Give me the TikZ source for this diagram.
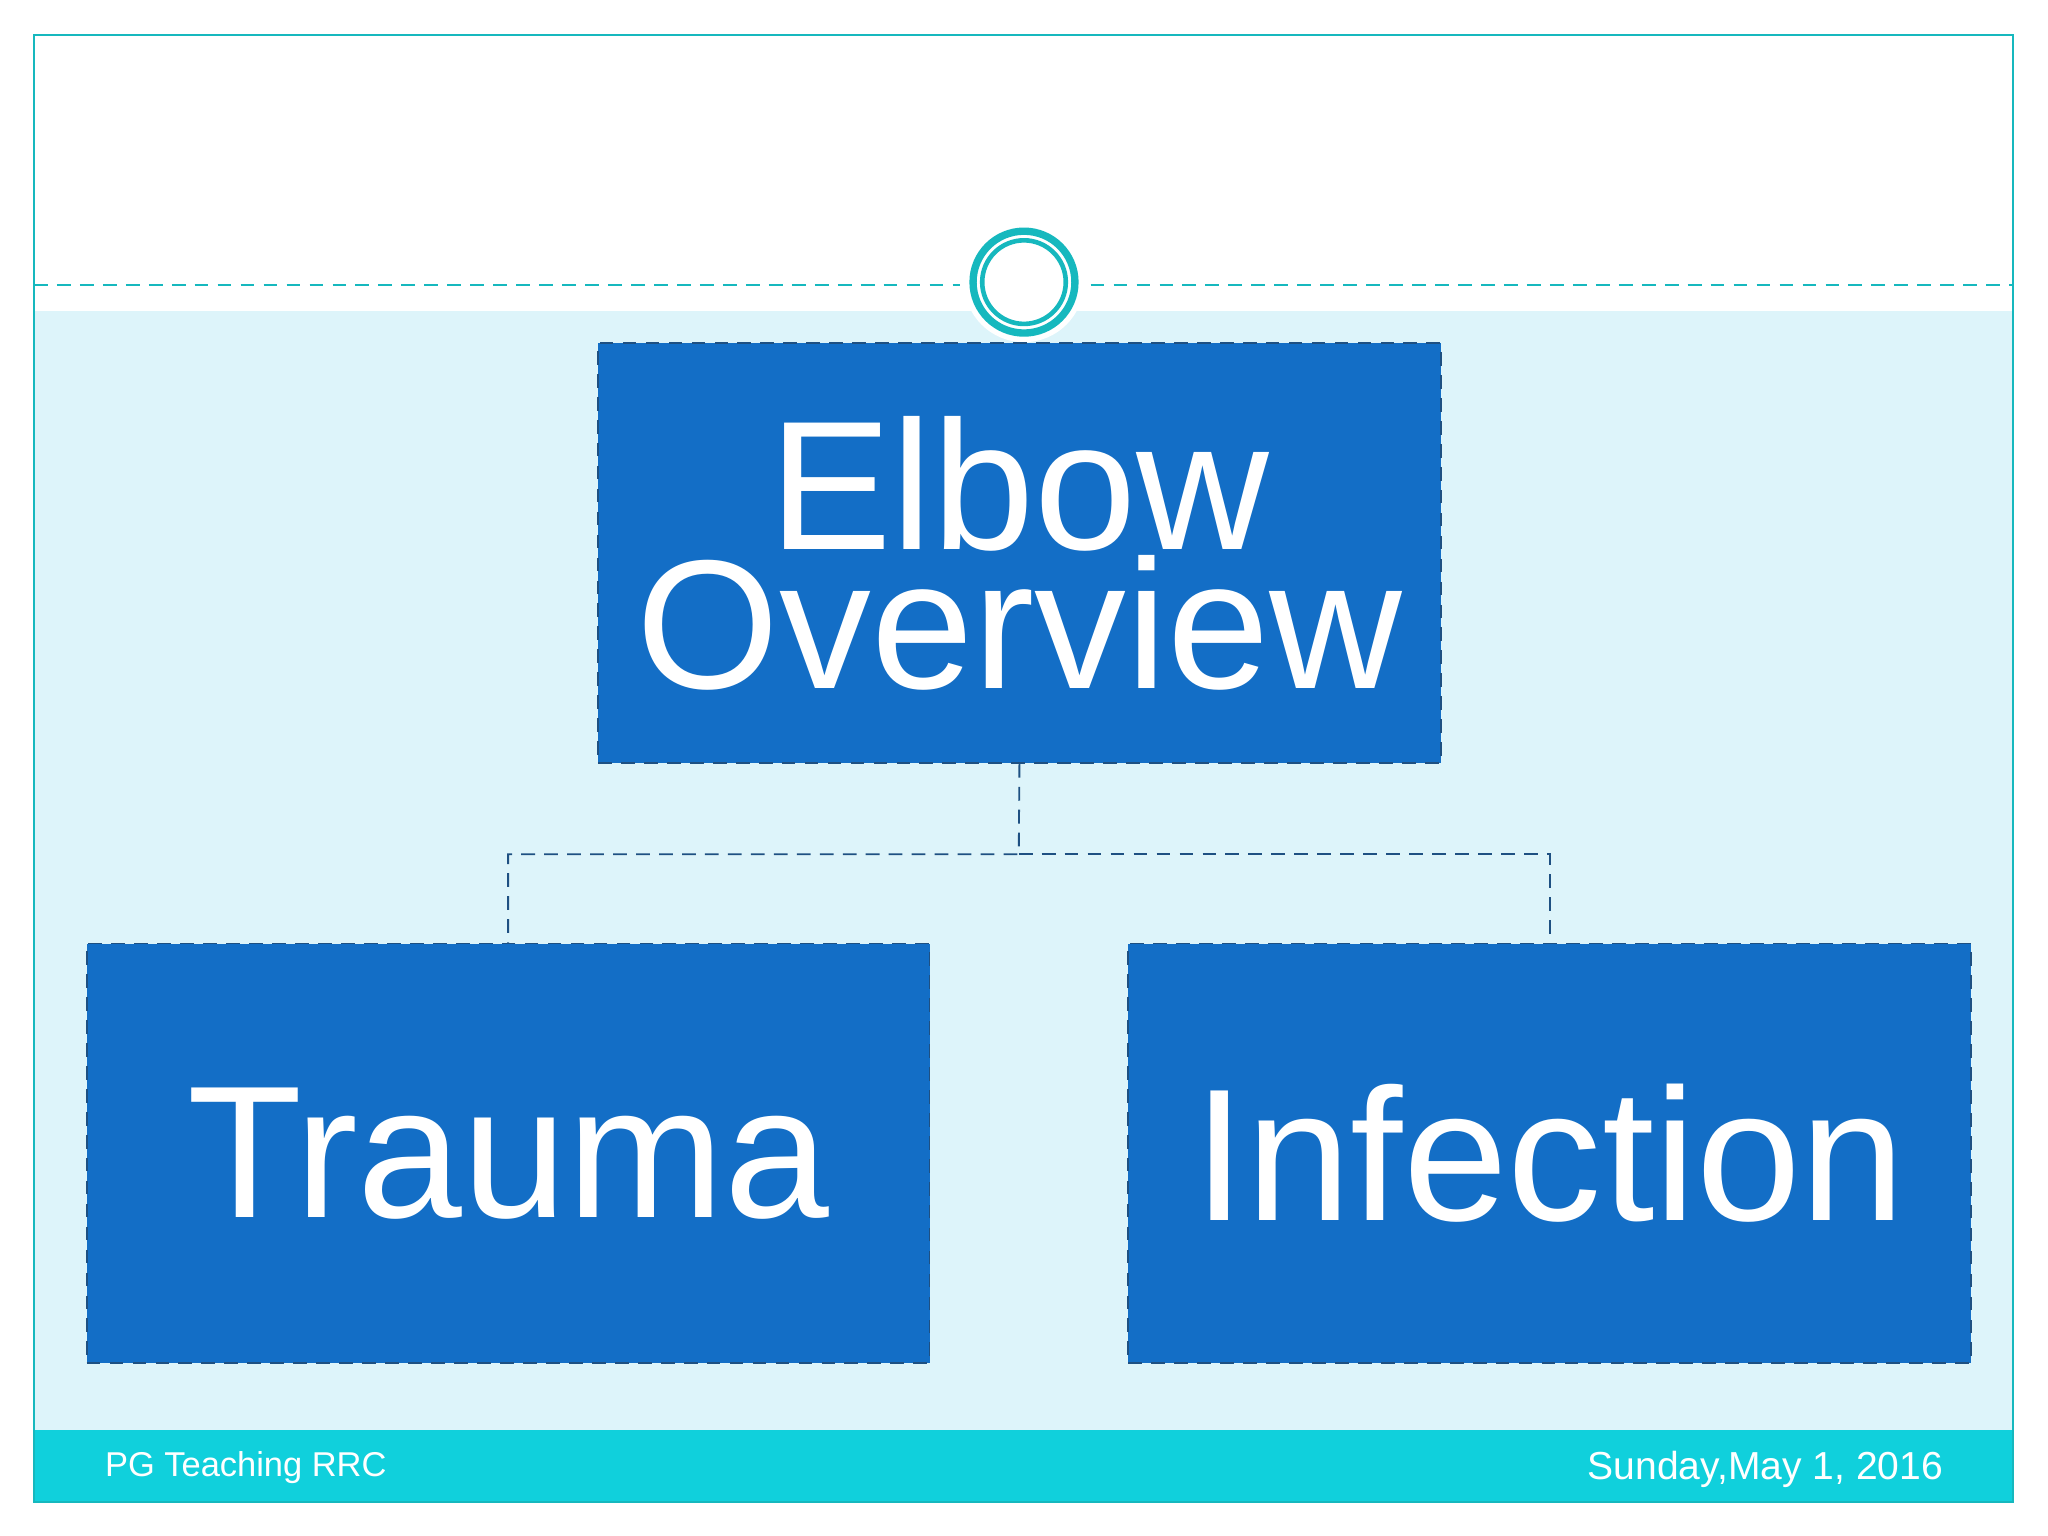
\documentclass[tikz,border=0pt]{standalone}
\usepackage{fontspec}
\setmainfont{Liberation Sans}
\usetikzlibrary{positioning}
\definecolor{boxblue}{RGB}{19,110,198}
\definecolor{pale}{RGB}{221,244,250}
\definecolor{teal1}{RGB}{22,184,190}
\definecolor{bar}{RGB}{16,208,220}
\definecolor{link}{RGB}{30,80,130}
\tikzstyle{topic} = [rectangle, fill=boxblue, draw=link, densely dashed, thin, text=white, minimum width=6.45cm, minimum height=3.21cm, align=center, inner sep=0pt]
\tikzstyle{branch} = [draw=link, densely dashed, thin]
\newcommand{\hugetext}{\fontsize{40}{42}\selectfont}
\begin{document}
\begin{tikzpicture}[x=0.01cm, y=-0.01cm]
  \useasboundingbox (0,0) rectangle (1568,1176);
  \fill[white] (0,0) rectangle (1568,1176);
  % background areas
  \fill[pale] (26,238) rectangle (1541,1095);
  \fill[bar] (26,1095) rectangle (1541,1150);
  \draw[teal1, thin] (26,27) rectangle (1541,1150);
  \draw[teal1, densely dashed, thin] (26,218) -- (735,218) (835,218) -- (1541,218);
  \fill[white] (784,216) circle (46);
  \draw[teal1, line width=1.6pt, fill=white] (784,216) circle (39);
  \draw[teal1, line width=1pt] (784,216) circle (32);
  % boxes
  \node[topic] (elbow) at (780.5,423.5) {\hugetext Elbow\\\hugetext Overview};
  \node[topic] (trauma) at (389,883) {\fontsize{41}{42}\selectfont Trauma};
  \node[topic] (infection) at (1186.5,883) {\fontsize{41}{42}\selectfont Infection};
  \coordinate (split) at (780,654);
  \draw[branch] (elbow.south) -- (split) -| (trauma.north);
  \draw[branch] (split) -| (infection.north);
  % footer
  \node[text=white, anchor=west, font=\fontsize{7.5}{9}\selectfont] (left) at (68,1124) {PG Teaching RRC};
  \node[text=white, anchor=east, font=\fontsize{8.5}{10}\selectfont] (right) at (1500,1125) {Sunday,May 1, 2016};
\end{tikzpicture}
\end{document}
